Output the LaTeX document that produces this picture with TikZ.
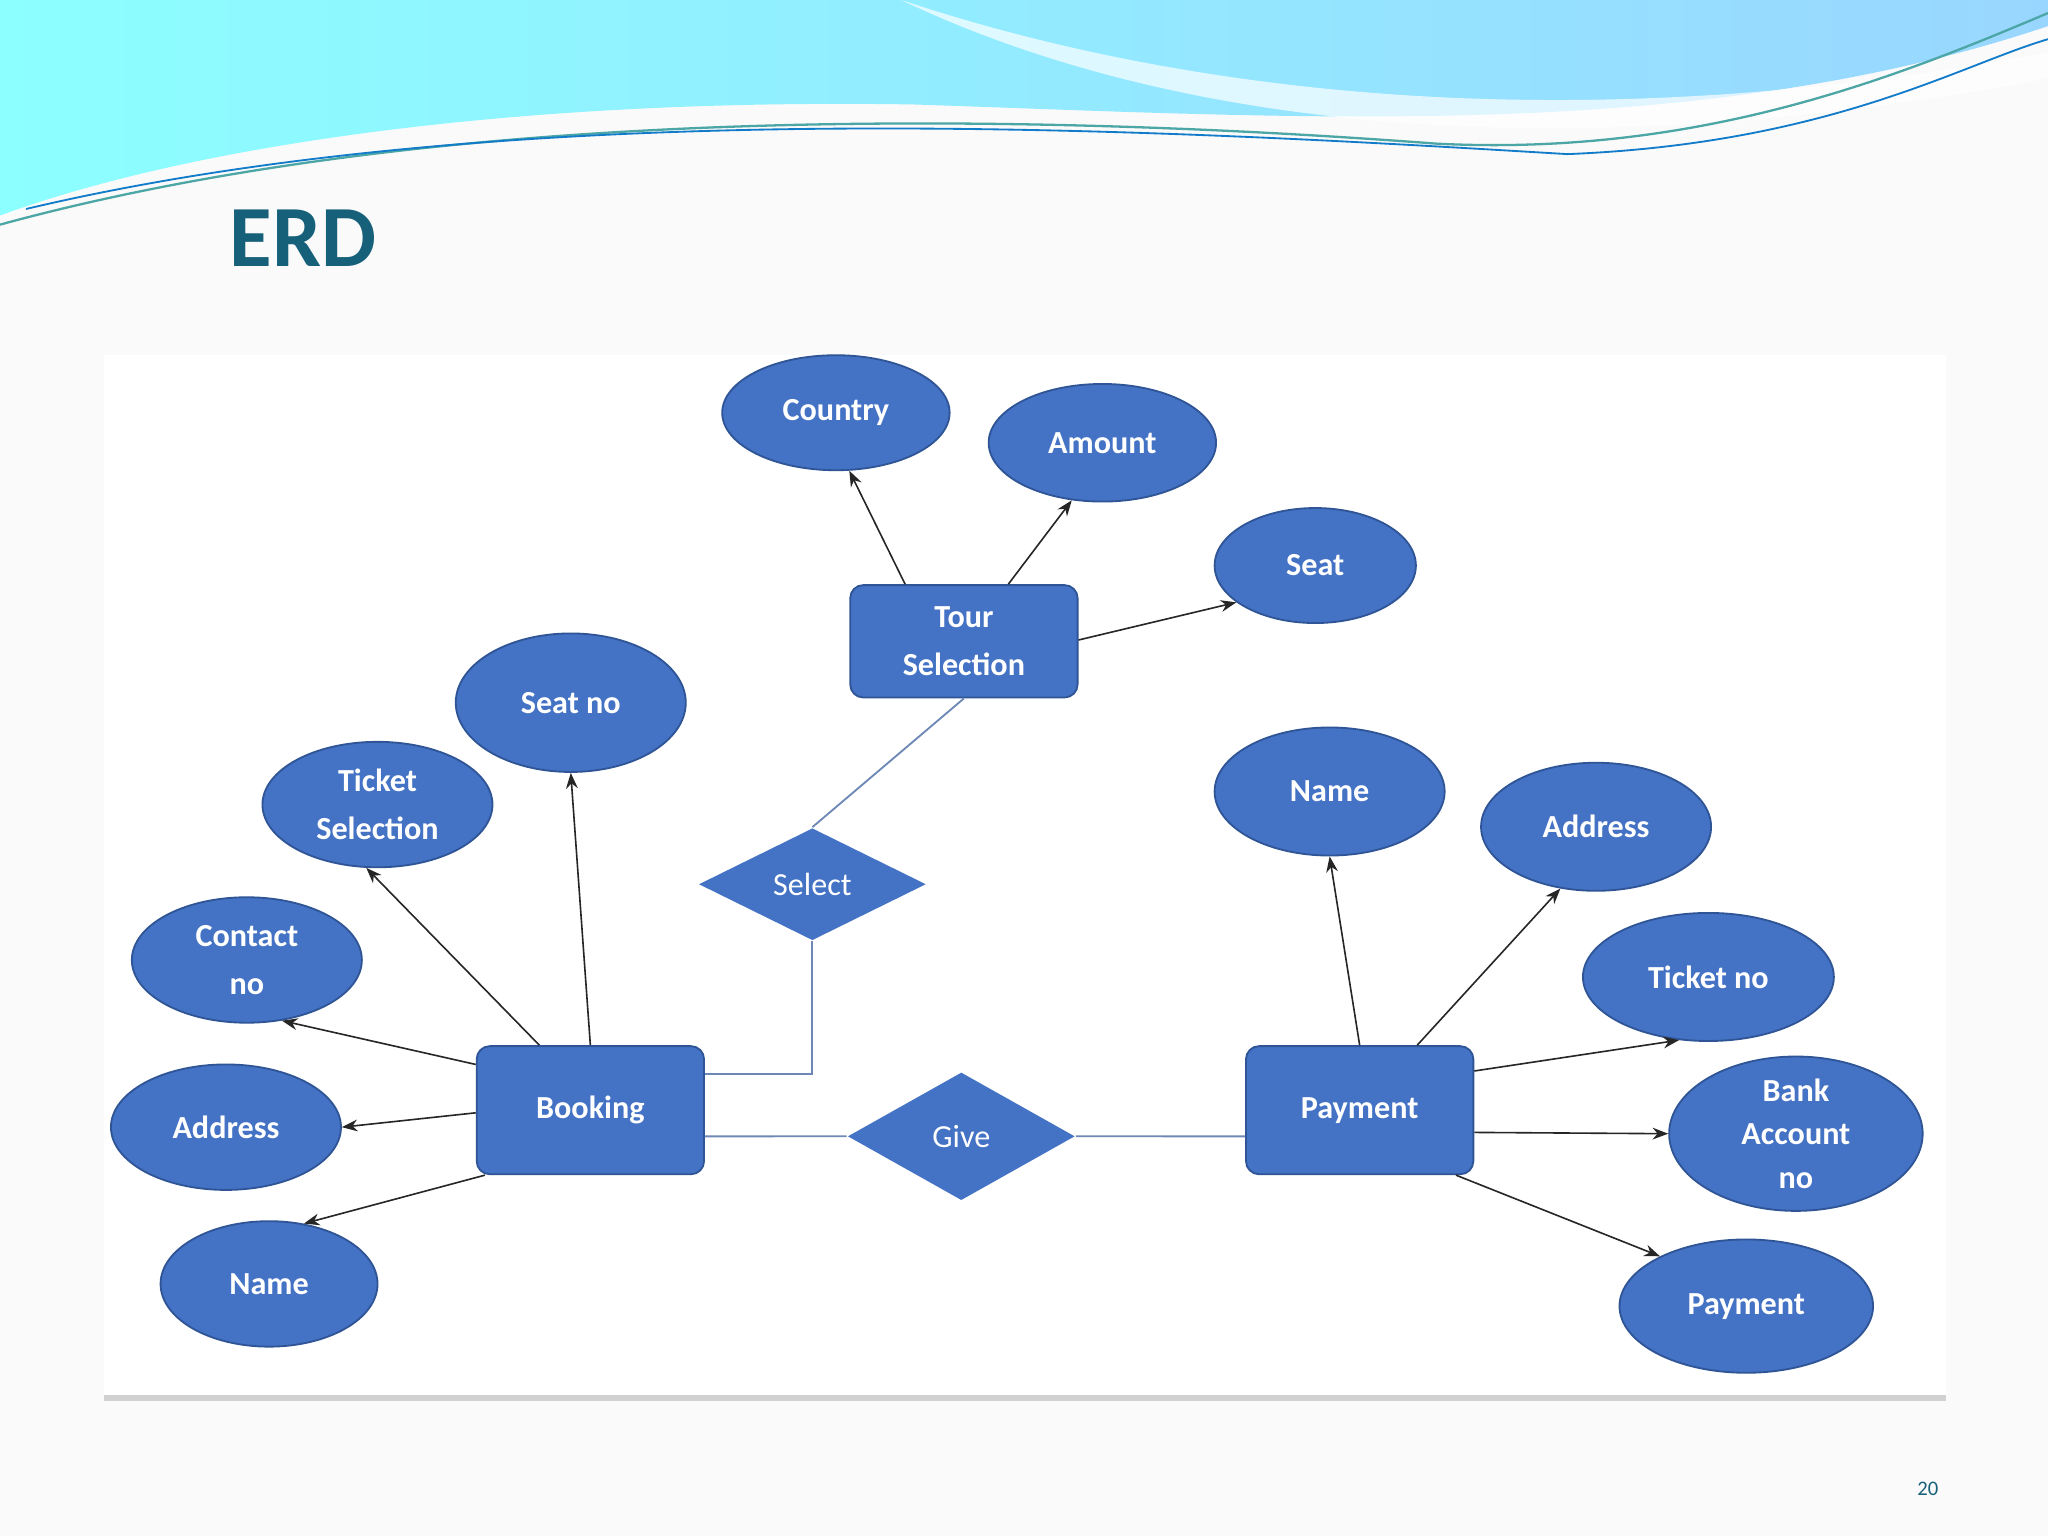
\documentclass[tikz,border=0pt]{standalone}
\usepackage{fontspec}
\setmainfont{Carlito}
\usetikzlibrary{shapes.geometric,arrows.meta}
\definecolor{ent}{HTML}{4472C4}
\definecolor{entb}{HTML}{2F5597}
\definecolor{ttl}{HTML}{17607A}
\begin{document}
\begin{tikzpicture}[x=0.01cm,y=-0.01cm,
  attr/.style={ellipse,fill=ent,draw=entb,line width=0.4pt,text=white,font=\fontsize{7}{8.4}\selectfont\bfseries,align=center,inner sep=0pt},
  ent/.style={rectangle,rounded corners=1mm,fill=ent,draw=entb,line width=0.4pt,text=white,font=\fontsize{7}{8.4}\selectfont\bfseries,align=center,minimum width=1.74cm,minimum height=0.86cm},
  rel/.style={diamond,aspect=2,fill=ent,draw=none,text=white,font=\fontsize{7}{8.4}\selectfont,inner sep=0pt},
  arr/.style={-{Stealth[length=1.2mm,width=0.9mm]},line width=0.35pt,black!85},
  lnk/.style={line width=0.4pt,entb!70}]
\useasboundingbox (0,0) rectangle (1568,1176);
\fill[black!2] (0,0) rectangle (1568,1176);
% top wave
\shade[left color=cyan!45!white,right color=cyan!60!blue!40] (0,0) -- (1568,0) -- (1568,20) .. controls (1300,110) and (1000,90) .. (700,80) .. controls (400,75) and (150,110) .. (0,165) -- cycle;
\fill[white,opacity=0.7] (690,0) .. controls (900,70) and (1200,110) .. (1568,40) -- (1568,60) .. controls (1200,130) and (900,100) .. (690,0) -- cycle;
\draw[teal!70,line width=0.5pt] (0,172) .. controls (300,90) and (700,80) .. (1100,110) .. controls (1300,120) and (1450,60) .. (1568,10);
\draw[cyan!60!blue,line width=0.4pt] (20,160) .. controls (400,70) and (900,100) .. (1200,118) .. controls (1400,110) and (1500,50) .. (1568,30);
\node[font=\fontsize{19}{22}\selectfont\bfseries,text=ttl] (title) at (232,182) {ERD};
\node[font=\fontsize{4.5}{5}\selectfont\rmfamily,text=ttl] (pg) at (1476,1140) {20};
% panel
\fill[black!18] (80,1068) rectangle (1490,1073);
\fill[white] (80,272) rectangle (1490,1068) node[coordinate] (panel) {};
% nodes
\node[attr,minimum width=1.74cm,minimum height=0.88cm] (country) at (640,316) {Country};
\node[attr,minimum width=1.74cm,minimum height=0.90cm] (amount) at (844,339) {Amount};
\node[attr,minimum width=1.54cm,minimum height=0.88cm] (seat) at (1007,433) {Seat};
\node[ent] (tour) at (738,491) {Tour\\[2pt]Selection};
\node[attr,minimum width=1.76cm,minimum height=1.06cm] (seatno) at (437,538) {Seat no};
\node[attr,minimum width=1.76cm,minimum height=0.96cm] (ticket) at (289,616) {Ticket\\[2pt]Selection};
\node[attr,minimum width=1.76cm,minimum height=0.96cm] (contact) at (189,735) {Contact\\[2pt]no};
\node[attr,minimum width=1.76cm,minimum height=0.96cm] (address) at (173,863) {Address};
\node[attr,minimum width=1.66cm,minimum height=0.96cm] (name) at (206,983) {Name};
\node[ent,minimum height=0.98cm] (booking) at (452,850) {Booking};
\node[rel,minimum width=1.74cm,minimum height=0.86cm] (select) at (622,677) {Select};
\node[rel,minimum width=1.74cm,minimum height=0.98cm] (give) at (736,870) {Give};
\node[ent,minimum height=0.98cm] (payment) at (1041,850) {Payment};
\node[attr,minimum width=1.76cm,minimum height=0.98cm] (pname) at (1018,606) {Name};
\node[attr,minimum width=1.76cm,minimum height=0.98cm] (paddr) at (1222,633) {Address};
\node[attr,minimum width=1.92cm,minimum height=0.98cm] (pticket) at (1308,748) {Ticket no};
\node[attr,minimum width=1.94cm,minimum height=0.98cm] (bank) at (1375,868) {Bank\\[1pt]Account\\[1pt]no};
\node[attr,minimum width=1.94cm,minimum height=1.02cm] (ppay) at (1337,1000) {Payment};
% connectors
\draw[arr] ([xshift=-0.45cm]tour.north) -- (country.-77);
\draw[arr] ([xshift=0.34cm]tour.north) -- (amount.-118);
\draw[arr] ([yshift=0.01cm]tour.east) -- (seat.205);
\draw[lnk] (tour.south) -- (select.north);
\draw[lnk] (select.south) |- ([yshift=0.28cm]booking.east);
\draw[lnk] ([yshift=-0.2cm]booking.east) -- (give.west);
\draw[lnk] (give.east) -- ([yshift=-0.2cm]payment.west);
\draw[arr] (booking.north) -- (seatno.south);
\draw[arr] ([xshift=-0.39cm]booking.north) -- (ticket.-100);
\draw[arr] ([yshift=0.35cm]booking.west) -- (contact.-60);
\draw[arr] ([yshift=-0.02cm]booking.west) -- (address.east);
\draw[arr] ([xshift=0.07cm]booking.south west) -- (name.60);
\draw[arr] (payment.north) -- (pname.south);
\draw[arr] ([xshift=0.44cm]payment.north) -- (paddr.-120);
\draw[arr] ([yshift=0.3cm]payment.east) -- (pticket.-115);
\draw[arr] ([yshift=-0.17cm]payment.east) -- (bank.west);
\draw[arr] ([xshift=-0.14cm]payment.south east) -- (ppay.150);
\end{tikzpicture}
\end{document}
